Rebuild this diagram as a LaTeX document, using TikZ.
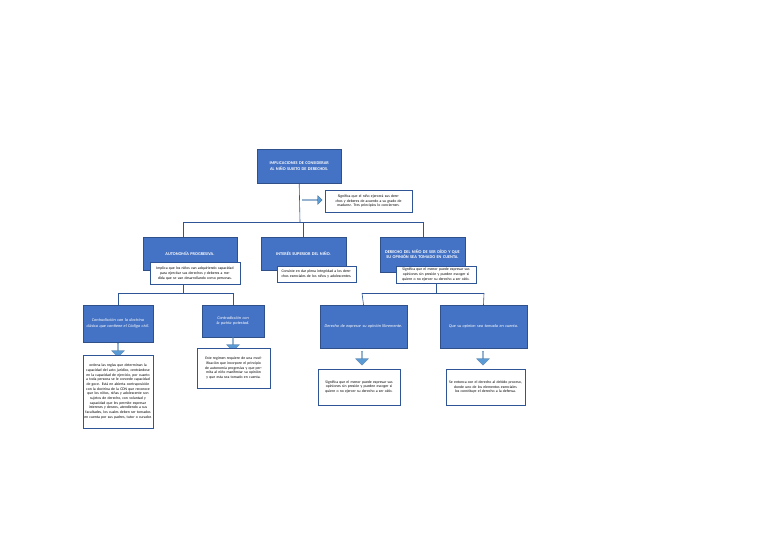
\documentclass[tikz,border=0pt]{standalone}
\usepackage{fontspec}
\setmainfont{Carlito}
\usetikzlibrary{shapes.arrows}
\definecolor{bl}{HTML}{4472C4}
\definecolor{ln}{HTML}{2F5597}
\definecolor{ar}{HTML}{5B9BD5}
\tikzset{
 bbox/.style={fill=bl,draw=bl!70!black,line width=0.4pt,text=white,align=center,font=\fontsize{4.3}{5.3}\selectfont,inner sep=1pt},
 wbox/.style={fill=white,draw=ln,line width=0.6pt,align=center,font=\fontsize{3.8}{4.7}\selectfont,inner sep=1pt},
 conn/.style={draw=ln,line width=0.6pt},
 darr/.style={single arrow,shape border rotate=270,fill=ar,draw=ar!70!black,line width=0.3pt,minimum width=13pt,single arrow head extend=2pt,minimum height=14pt,inner sep=0pt},
 rarr/.style={single arrow,fill=ar,draw=ar!70!black,line width=0.3pt,minimum width=9pt,single arrow head extend=2pt,minimum height=20pt,inner sep=0pt}
}
\begin{document}
\begin{tikzpicture}[x=1pt,y=-1pt]
\useasboundingbox (0,0) rectangle (768,543);
\node[bbox,minimum width=84pt,minimum height=34pt,anchor=north west,text width=80pt] (top) at (257,149) {\textbf{IMPLICACIONES DE CONSIDERAR AL NIÑO SUJETO DE DERECHOS.}\\[8pt]};
\coordinate (hub) at (300,222);
\draw[conn] (top.south) -- (hub);
\node[rarr] (ra) at (312,200) {};
\node[wbox,minimum width=87pt,minimum height=22pt,text width=84pt] (side) at (368.5,201) {Significa que el niño ejercerá sus derechos y deberes de acuerdo a su grado de madurez. Tres principios lo conciernen.};
\node[bbox,minimum width=94pt,minimum height=33pt,text width=90pt] (b1) at (190,253.5) {\textbf{AUTONOMÍA PROGRESIVA.}\\[4pt]};
\node[bbox,minimum width=85pt,minimum height=33pt,text width=81pt] (b2) at (303.5,253.5) {\textbf{INTERÉS SUPERIOR DEL NIÑO.}\\[4pt]};
\node[bbox,minimum width=85pt,minimum height=35pt,text width=82pt] (b3) at (422.5,254.5) {\textbf{DERECHO DEL NIÑO DE SER OÍDO Y QUE SU OPINIÓN SEA TOMADO EN CUENTA.}};
\coordinate (c1) at (183,222); \coordinate (c2) at (303,222); \coordinate (c3) at (423,222);
\draw[conn] (c1) -- (c3);
\draw[conn] (c1) -- (183,237);
\draw[conn] (c2) -- (303,237);
\draw[conn] (c3) -- (423,237);
\node[wbox,minimum width=90pt,minimum height=22pt,text width=88pt] (s1) at (195,273.5) {Implica que los niños van adquiriendo capacidad para ejercitar sus derechos y deberes a medida que se van desarrollando como personas.};
\node[wbox,minimum width=79pt,minimum height=16pt,text width=77pt] (s2) at (316.5,274) {Consiste en dar plena integridad a los derechos esenciales de los niños y adolescentes.};
\node[wbox,minimum width=80pt,minimum height=17pt,text width=78pt] (s3) at (436,274.5) {Significa que el menor puede expresar sus opiniones sin presión y pueden escoger si quiere o no ejercer su derecho a ser oído.};
% left branch
\coordinate (l0) at (183,293); \coordinate (l1) at (118,293); \coordinate (l2) at (233,293);
\draw[conn] (183,285) -- (l0);
\draw[conn] (l1) -- (l2);
\node[bbox,minimum width=70pt,minimum height=37pt,text width=66pt] (b4) at (118,323.5) {\itshape Contradicción con la doctrina clásica que contiene el Código civil.\\[8pt]};
\node[bbox,minimum width=62pt,minimum height=32pt,text width=60pt] (b5) at (233,321) {\itshape Contradicción con la patria potestad.\\[6pt]};
\draw[conn] (l1) -- (b4.north);
\draw[conn] (l2) -- (b5.north);
\node[darr] (a4) at (118,350) {};
\node[darr] (a5) at (233,344) {};
\node[wbox,minimum width=70pt,minimum height=73pt,text width=68pt] (t4) at (118,391.5) {ordena las reglas que determinan la capacidad del acto jurídico, centrándose en la capacidad de ejercicio, por cuanto a toda persona se le concede capacidad de goce. Está en abierta contraposición con la doctrina de la CDN que reconoce que los niños, niñas y adolescente son sujetos de derecho, con voluntad y capacidad que les permite expresar intereses y deseos, atendiendo a sus facultades, los cuales deben ser tomados en cuenta por sus padres, tutor o curador.};
\node[wbox,minimum width=73pt,minimum height=40pt,text width=71pt] (t5) at (233.5,368) {Este regimen requiere de una modificación que incorpore el principio de autonomía progresiva y que permita al niño manifestar su opinión y que esta sea tomado en cuenta.\\[4pt]};
% right branch
\coordinate (r0) at (423,293); \coordinate (r1) at (362,293); \coordinate (r2) at (484,293);
\draw[conn] (436,283) -- (436,293);
\draw[conn] (r1) -- (r2);
\node[bbox,minimum width=87pt,minimum height=43pt,text width=82pt] (b6) at (363.5,326.5) {\itshape Derecho de expresar su opinión libremente.\\[6pt]};
\node[bbox,minimum width=87pt,minimum height=43pt,text width=82pt] (b7) at (483.5,326.5) {\itshape Que su opinion sea tomada en cuenta.\\[6pt]};
\draw[conn] (r1) -- (b6.north);
\draw[conn] (r2) -- (b7.north);
\node[darr] (a6) at (362,358) {};
\node[darr] (a7) at (483,358) {};
\node[wbox,minimum width=82pt,minimum height=36pt,text width=78pt] (t6) at (359,387) {Significa que el menor puede expresar sus opiniones sin presión y pueden escoger si quiere o no ejercer su derecho a ser oído.};
\node[wbox,minimum width=79pt,minimum height=36pt,text width=76pt] (t7) at (485.5,387) {Se entonca con el derecho al debido proceso, donde uno de los elementos esenciales los constituye el derecho a la defensa.};
\end{tikzpicture}
\end{document}
